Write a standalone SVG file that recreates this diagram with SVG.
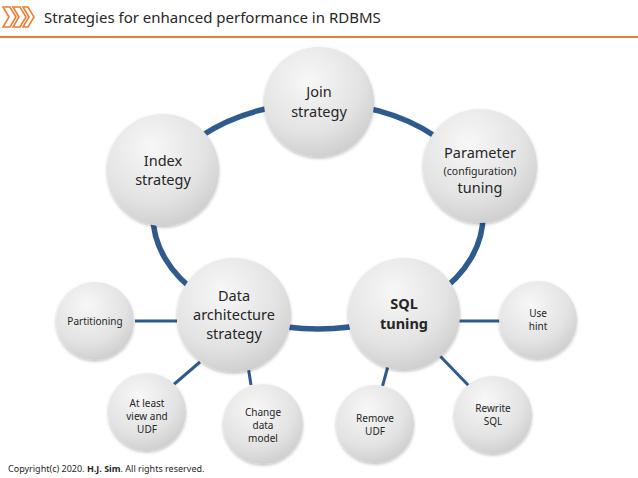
<svg xmlns="http://www.w3.org/2000/svg" width="638" height="478" viewBox="0 0 638 478">
<style>
text{font-family:"Noto Sans","Open Sans","Liberation Sans",sans-serif;fill:#262626;text-anchor:middle}
.big{font-size:14.5px}.sm{font-size:10px}.cfg{font-size:10.5px}
.node{fill:url(#g);filter:url(#sh)}
.c{stroke:#2e5a8e;stroke-width:3;fill:none}
</style>
<defs>
<radialGradient id="g" cx="0.4" cy="0.3" r="0.8">
<stop offset="0" stop-color="#f7f7f7"/><stop offset="0.6" stop-color="#e3e3e3"/><stop offset="1" stop-color="#c8c8c8"/>
</radialGradient>
<filter id="sh" x="-20%" y="-20%" width="140%" height="140%"><feDropShadow dx="0" dy="1.5" stdDeviation="1.5" flood-color="#000" flood-opacity="0.25"/></filter>
</defs>
<rect width="638" height="478" fill="#fff"/>
<g id="header">
<path d="M3 7 L10 7 L16 17 L10 27 L3 27 L9 17 Z M13 7 L20 7 L26 17 L20 27 L13 27 L19 17 Z M23 7 L28 7 L34 17 L28 27 L23 27 L29 17 Z" fill="none" stroke="#ed7d31" stroke-width="1.6"/>
<text x="44" y="23" style="font-size:15px;text-anchor:start">Strategies for enhanced performance in RDBMS</text>
<rect x="0" y="36" width="638" height="2" fill="#ed7d31"/>
</g>
<g id="connectors">
<ellipse cx="318" cy="216" rx="165" ry="113" fill="none" stroke="#2e5a8e" stroke-width="5.5"/>
<line class="c" x1="135" y1="321" x2="177" y2="321"/>
<line class="c" x1="172" y1="386" x2="200" y2="362"/>
<line class="c" x1="248" y1="366" x2="251" y2="385"/>
<line class="c" x1="388" y1="366" x2="382" y2="388"/>
<line class="c" x1="440" y1="356" x2="470" y2="387"/>
<line class="c" x1="459" y1="321" x2="500" y2="321"/>
</g>
<g id="join"><circle class="node" cx="319" cy="102" r="55"/><text class="big" x="319" y="97">Join</text><text class="big" x="319" y="117">strategy</text></g>
<g id="index"><circle class="node" cx="163" cy="170" r="56"/><text class="big" x="163" y="166">Index</text><text class="big" x="163" y="185">strategy</text></g>
<g id="param"><circle class="node" cx="480" cy="166" r="57"/><text class="big" x="480" y="158">Parameter</text><text class="cfg" x="480" y="175">(configuration)</text><text class="big" x="480" y="193">tuning</text></g>
<g id="data"><circle class="node" cx="234" cy="315" r="57"/><text class="big" x="234" y="301">Data</text><text class="big" x="234" y="320">architecture</text><text class="big" x="234" y="339">strategy</text></g>
<g id="sql"><circle class="node" cx="404" cy="314" r="56"/><text class="big" x="404" y="309" font-weight="bold">SQL</text><text class="big" x="404" y="329" font-weight="bold">tuning</text></g>
<g id="partitioning"><circle class="node" cx="95" cy="321" r="39"/><text class="sm" x="95" y="325">Partitioning</text></g>
<g id="atleast"><circle class="node" cx="147" cy="412" r="39"/><text class="sm" x="147" y="407">At least</text><text class="sm" x="147" y="420">view and</text><text class="sm" x="147" y="433">UDF</text></g>
<g id="change"><circle class="node" cx="263" cy="424" r="40"/><text class="sm" x="263" y="416">Change</text><text class="sm" x="263" y="429">data</text><text class="sm" x="263" y="442">model</text></g>
<g id="remove"><circle class="node" cx="375" cy="424" r="39"/><text class="sm" x="375" y="422">Remove</text><text class="sm" x="375" y="435">UDF</text></g>
<g id="rewrite"><circle class="node" cx="493" cy="415" r="39"/><text class="sm" x="493" y="412">Rewrite</text><text class="sm" x="493" y="425">SQL</text></g>
<g id="usehint"><circle class="node" cx="538" cy="320" r="39"/><text class="sm" x="538" y="317">Use</text><text class="sm" x="538" y="330">hint</text></g>
<g id="footer"><text x="8" y="472" style="font-size:9px;text-anchor:start">Copyright(c) 2020. <tspan font-weight="bold">H.J. Sim</tspan>. All rights reserved.</text></g>
</svg>
